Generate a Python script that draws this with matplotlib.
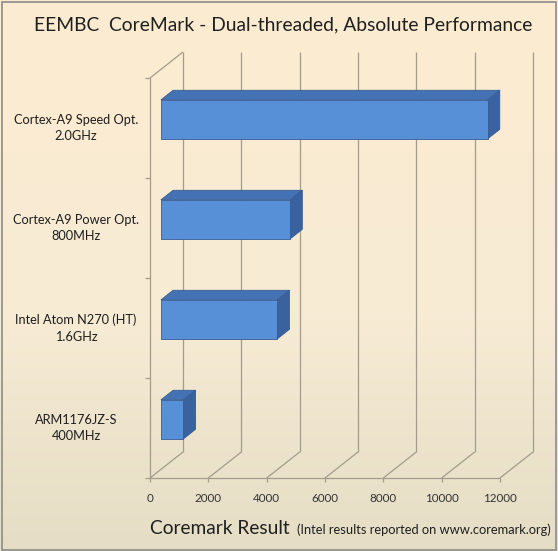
import numpy as np
import matplotlib
matplotlib.use("Agg")
import matplotlib.pyplot as plt
from matplotlib.patches import Polygon, Rectangle

# ---------------- data ----------------
categories = ["ARM1176JZ-S\n400MHz",
              "Intel Atom N270 (HT)\n1.6GHz",
              "Cortex-A9 Power Opt.\n800MHz",
              "Cortex-A9 Speed Opt.\n2.0GHz"]
values = [770, 3990, 4430, 11200]
xticks = [0, 2000, 4000, 6000, 8000, 10000, 12000]
xmax = 12000
title = "EEMBC  CoreMark - Dual-threaded, Absolute Performance"
xlabel_main = "Coremark Result"
xlabel_note = "(Intel results reported on www.coremark.org)"

# ---------------- style / layout ----------------
FONT = "Lato"
W, H, DPI = 558, 551, 100
GRID = "#a39c8c"
TXT = "#1f1f1f"
FRONT = "#5890d8"
TOP = "#4572b4"
SIDE = "#3a629e"
EDGE = "#365c92"

fig = plt.figure(figsize=(W / DPI, H / DPI), dpi=DPI)

# background gradient
bg = fig.add_axes([0, 0, 1, 1], zorder=-10)
t = np.linspace(0, 1, 256)[:, None]
top_c = np.array([252, 235, 208]) / 255
mid_c = np.array([248, 236, 213]) / 255
bot_c = np.array([229, 221, 197]) / 255
grad = np.where(t < 0.55, top_c + (mid_c - top_c) * (t / 0.55),
                mid_c + (bot_c - mid_c) * ((t - 0.55) / 0.45))
grad = np.repeat(grad[:, None, :], 2, axis=1)
bg.imshow(grad, aspect="auto", extent=[0, 1, 0, 1])
bg.set_xlim(0, 1); bg.set_ylim(0, 1)
bg.axis("off")
fig.patches.append(Rectangle((1.5 / W, 1.5 / H), 1 - 3.5 / W, 1 - 3.5 / H,
                             transform=fig.transFigure, fill=False,
                             edgecolor="#8c8c8c", linewidth=1.2, zorder=5))

# front plane axes (pixels of the front plane)
L, R, T, B = 150, 500, 78, 478
ax = fig.add_axes([L / W, 1 - B / H, (R - L) / W, (B - T) / H])
ax.set_xlim(0, xmax)
ax.set_ylim(0, len(categories))
ax.patch.set_visible(False)
for s in ax.spines.values():
    s.set_visible(False)

# oblique depth vector (full depth = 33 px right, 26 px up)
DX = 33 * xmax / (R - L)
DY = 26 * len(categories) / (B - T)


def P(v, c, d):
    return (v + d * DX, c + d * DY)


ncat = len(categories)
lk = dict(color=GRID, lw=0.9, clip_on=False, solid_capstyle="butt")
# back wall gridlines
for v in xticks:
    (x0, y0), (x1, y1) = P(v, 0, 1), P(v, ncat, 1)
    ax.plot([x0, x1], [y0, y1], **lk)
# floor
(x0, y0), (x1, y1) = P(0, 0, 0), P(xmax, 0, 0)
ax.plot([x0, x1], [y0, y1], **lk)
for v in xticks:
    (x0, y0), (x1, y1) = P(v, 0, 0), P(v, 0, 1)
    ax.plot([x0, x1], [y0, y1], **lk)
# left wall
(x0, y0), (x1, y1) = P(0, 0, 0), P(0, ncat, 0)
ax.plot([x0, x1], [y0, y1], **lk)
(x0, y0), (x1, y1) = P(0, ncat, 0), P(0, ncat, 1)
ax.plot([x0, x1], [y0, y1], **lk)

# bars
BH = 0.39
D0, D1 = 0.333, 0.70
for i, v in enumerate(values):
    c = i + 0.5
    lo, hi = c - BH / 2, c + BH / 2
    side = [P(v, lo, D0), P(v, lo, D1), P(v, hi, D1), P(v, hi, D0)]
    top = [P(0, hi, D0), P(v, hi, D0), P(v, hi, D1), P(0, hi, D1)]
    front = [P(0, lo, D0), P(v, lo, D0), P(v, hi, D0), P(0, hi, D0)]
    for pts, col in ((side, SIDE), (top, TOP), (front, FRONT)):
        ax.add_patch(Polygon(pts, closed=True, facecolor=col, edgecolor=EDGE,
                             lw=0.6, joinstyle="round", clip_on=False, zorder=3))

# category labels
for i, lab in enumerate(categories):
    ax.text(-0.211, i + 0.5, lab, transform=ax.get_yaxis_transform(),
            ha="center", va="center", multialignment="center",
            fontsize=9.2, family=FONT, color=TXT, linespacing=1.45)

# ticks
ax.set_xticks(xticks)
ax.set_xticklabels([str(v) for v in xticks], family=FONT, fontsize=8.4, color="#333333")
ax.tick_params(axis="x", length=3, width=0.9, color=GRID, pad=8)
ax.set_yticks(range(ncat + 1))
ax.set_yticklabels([])
ax.tick_params(axis="y", length=3.6, width=0.9, color=GRID)

# titles
fig.text(283.5 / W, 1 - 25 / H, title, ha="center", va="center",
         fontsize=13.9, family=FONT, color=TXT)
fig.text(150 / W, 1 - 534 / H, xlabel_main, ha="left", va="baseline",
         fontsize=13.8, family=FONT, color=TXT)
fig.text(297 / W, 1 - 534 / H, xlabel_note, ha="left", va="baseline",
         fontsize=9.3, family=FONT, color=TXT)

fig.savefig("out.png", dpi=DPI)
